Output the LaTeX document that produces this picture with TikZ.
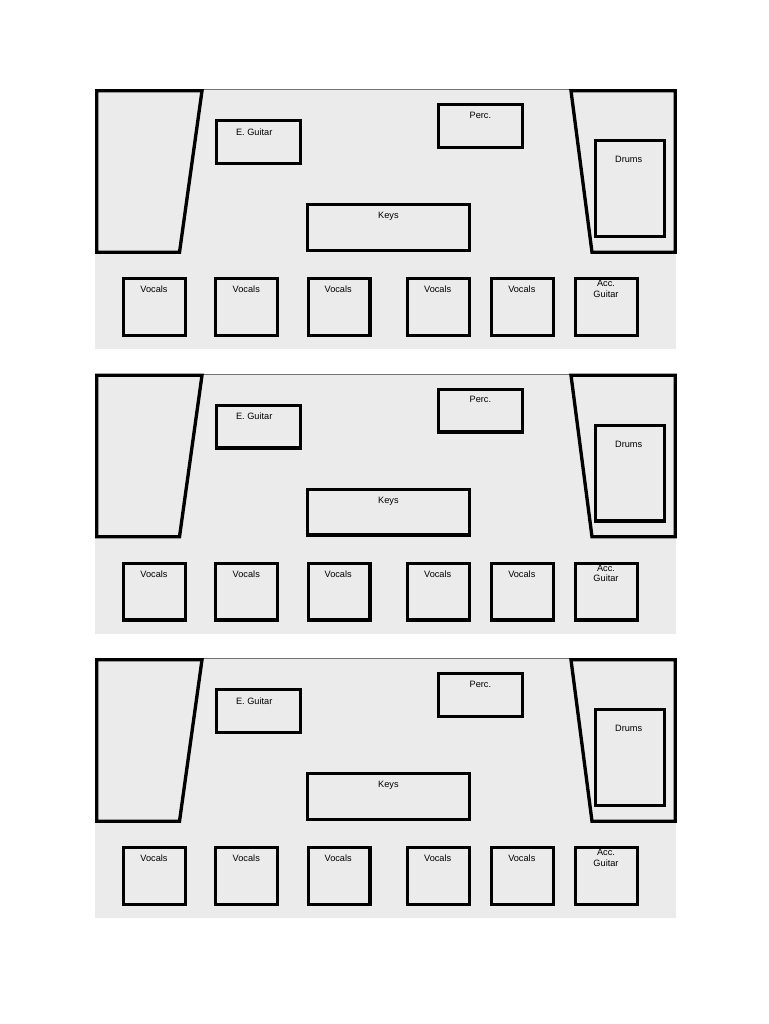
\documentclass[tikz,border=0pt]{standalone}
\usepackage{fontspec}
\setmainfont{Liberation Sans}
\definecolor{stagegray}{RGB}{235,235,235}
\begin{document}
\begin{tikzpicture}[x=0.75pt,y=-0.75pt,
  stage/.style={fill=stagegray, draw=black, line width=2.5pt, line join=miter},
  box/.style 2 args={draw=black, fill=stagegray, line width=2.5pt, rectangle, inner sep=0pt,
    minimum width=#1*0.75pt-2.5pt, minimum height=#2*0.75pt-2.5pt},
  lbl/.style={anchor=base, inner sep=0pt, font=\fontsize{6.9}{7.95}\selectfont, align=center}]
\useasboundingbox[fill=white] (0,0) rectangle (768,1024);
\foreach \off/\n in {0/a,284.5/b,569/c}{
 \begin{scope}[shift={(0,\off)}]
  \fill[stagegray] (95,89) rectangle (676,349);
  \draw[black!55, line width=0.75pt] (95,89.5) -- (676,89.5);
  \draw[stage] (96.7,90.8) -- (202,90.8) -- (179.5,252.3) -- (96.7,252.3) -- cycle;
  \draw[stage] (571,90.8) -- (675.3,90.8) -- (675.3,252.3) -- (592,252.3) -- cycle;
  % boxes
  \node[box={87}{46}] (eg\n) at (258.5,142) {};
  \node[box={87}{46}] (pc\n) at (480.5,126) {};
  \node[box={72}{99}] (dr\n) at (630,188.5) {};
  \node[box={165}{49}] (ky\n) at (388.5,227.5) {};
  \node[box={65}{60}] (va\n) at (154.5,307) {};
  \node[box={65}{60}] (vb\n) at (246.5,307) {};
  \node[box={65}{60}] (vc\n) at (339,307) {};
  \node[box={65}{60}] (vd\n) at (438.5,307) {};
  \node[box={65}{60}] (ve\n) at (522.5,307) {};
  \node[box={65}{60}] (ag\n) at (606.5,307) {};
  % labels
  \node[lbl] (egl\n) at (254.2,135.3) {E. Guitar};
  \node[lbl] (pcl\n) at (480.4,118.4) {Perc.};
  \node[lbl] (drl\n) at (628.7,162.5) {Drums};
  \node[lbl] (kyl\n) at (388.4,218.8) {Keys};
  \node[lbl] (val\n) at (154,292.6) {Vocals};
  \node[lbl] (vbl\n) at (246.3,292.6) {Vocals};
  \node[lbl] (vcl\n) at (338.2,292.6) {Vocals};
  \node[lbl] (vdl\n) at (437.7,292.6) {Vocals};
  \node[lbl] (vel\n) at (521.8,292.6) {Vocals};
  \node[lbl] (agl\n) at (606,297.3) {Acc.\\Guitar};
 \end{scope}
}
\end{tikzpicture}
\end{document}
